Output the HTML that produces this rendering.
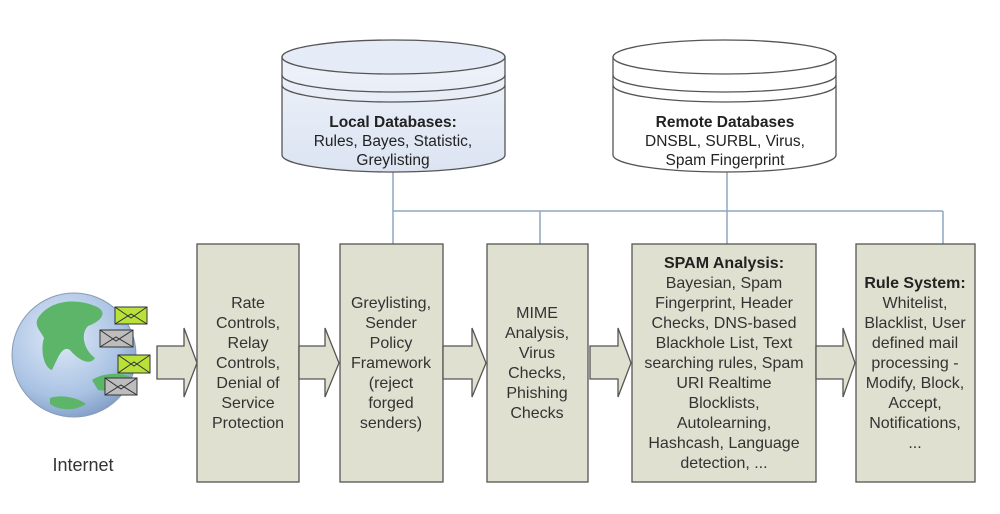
<!DOCTYPE html>
<html><head><meta charset="utf-8"><style>
html,body{margin:0;padding:0;background:#fff;}
svg{display:block;font-family:"Liberation Sans",Arial,sans-serif;}
</style></head><body>
<svg width="1000" height="514" viewBox="0 0 1000 514" xmlns="http://www.w3.org/2000/svg">
<defs>
<radialGradient id="gl" cx="0.4" cy="0.35" r="0.7">
<stop offset="0" stop-color="#dfeaf8"/><stop offset="0.7" stop-color="#a9c2e3"/><stop offset="1" stop-color="#7f9cc6"/>
</radialGradient>
<linearGradient id="cyl" x1="0" x2="0" y1="0" y2="1"><stop offset="0" stop-color="#eef2fa"/><stop offset="1" stop-color="#dce4f2"/></linearGradient>
</defs>
<!-- connectors -->
<g stroke="#8ea6bf" stroke-width="1.5" fill="none">
<line x1="393" y1="170" x2="393" y2="244"/>
<line x1="393" y1="211" x2="943" y2="211"/>
<line x1="540" y1="211" x2="540" y2="244"/>
<line x1="727" y1="170" x2="727" y2="244"/>
<line x1="943" y1="211" x2="943" y2="244"/>
</g>
<!-- cylinders -->
<g stroke="#555" stroke-width="1.3">
<path d="M282,57 L282,155 A111.5,17 0 0 0 505,155 L505,57 Z" fill="url(#cyl)"/>
<ellipse cx="393.5" cy="57" rx="111.5" ry="17" fill="#e6ecf7"/>
<path d="M282,75 A111.5,17 0 0 0 505,75" fill="none"/>
<path d="M282,85 A111.5,17 0 0 0 505,85" fill="none"/>
<path d="M613,57 L613,155 A111.5,17 0 0 0 836,155 L836,57 Z" fill="#fff"/>
<ellipse cx="724.5" cy="57" rx="111.5" ry="17" fill="#fff"/>
<path d="M613,75 A111.5,17 0 0 0 836,75" fill="none"/>
<path d="M613,85 A111.5,17 0 0 0 836,85" fill="none"/>
</g>
<g font-size="15.5" fill="#222" text-anchor="middle">
<text x="393" y="127" font-weight="bold">Local Databases:</text>
<text x="393" y="146">Rules, Bayes, Statistic,</text>
<text x="393" y="165">Greylisting</text>
<text x="725" y="127" font-weight="bold">Remote Databases</text>
<text x="725" y="146">DNSBL, SURBL, Virus,</text>
<text x="725" y="165">Spam Fingerprint</text>
</g>
<!-- boxes -->
<g fill="#dfe0d0" stroke="#555" stroke-width="1.3">
<rect x="197" y="244" width="102" height="238"/>
<rect x="340" y="244" width="103" height="238"/>
<rect x="487" y="244" width="101" height="238"/>
<rect x="632" y="244" width="184" height="238"/>
<rect x="856" y="244" width="119" height="238"/>
<!-- arrows -->
<path d="M157,346 L184,346 L184,328 L197,363 L184,397 L184,379 L157,379 Z"/>
<path d="M299,346 L325,346 L325,328 L339,363 L325,397 L325,379 L299,379 Z"/>
<path d="M443,346 L472,346 L472,328 L486,363 L472,397 L472,379 L443,379 Z"/>
<path d="M590,346 L618,346 L618,328 L631,363 L618,397 L618,379 L590,379 Z"/>
<path d="M816,346 L843,346 L843,328 L855,363 L843,397 L843,379 L816,379 Z"/>
</g>
<g font-size="16" fill="#333" text-anchor="middle">
<text x="248" y="308">Rate</text><text x="248" y="328">Controls,</text><text x="248" y="348">Relay</text><text x="248" y="368">Controls,</text><text x="248" y="388">Denial of</text><text x="248" y="408">Service</text><text x="248" y="428">Protection</text>
<text x="391" y="308">Greylisting,</text><text x="391" y="328">Sender</text><text x="391" y="348">Policy</text><text x="391" y="368">Framework</text><text x="391" y="388">(reject</text><text x="391" y="408">forged</text><text x="391" y="428">senders)</text>
<text x="537" y="318">MIME</text><text x="537" y="338">Analysis,</text><text x="537" y="358">Virus</text><text x="537" y="378">Checks,</text><text x="537" y="398">Phishing</text><text x="537" y="418">Checks</text>
<text x="724" y="268" font-weight="bold" fill="#222">SPAM Analysis:</text>
<text x="724" y="288">Bayesian, Spam</text><text x="724" y="308">Fingerprint, Header</text><text x="724" y="328">Checks, DNS-based</text><text x="724" y="348">Blackhole List, Text</text><text x="724" y="368">searching rules, Spam</text><text x="724" y="388">URI Realtime</text><text x="724" y="408">Blocklists,</text><text x="724" y="428">Autolearning,</text><text x="724" y="448">Hashcash, Language</text><text x="724" y="468">detection, ...</text>
<text x="915" y="288" font-weight="bold" fill="#222">Rule System:</text>
<text x="915" y="308">Whitelist,</text><text x="915" y="328">Blacklist, User</text><text x="915" y="348">defined mail</text><text x="915" y="368">processing -</text><text x="915" y="388">Modify, Block,</text><text x="915" y="408">Accept,</text><text x="915" y="428">Notifications,</text><text x="915" y="448">...</text>
<text x="83" y="471" font-size="18">Internet</text>
</g>
<!-- globe -->
<circle cx="74" cy="355" r="62" fill="url(#gl)" stroke="#8a9bb5" stroke-width="1"/>
<g fill="#5db56a">
<path d="M38,318 C50,300 75,298 95,306 C110,312 100,322 88,326 C80,334 84,350 95,358 C90,366 78,360 70,350 C62,345 58,358 52,370 C44,368 40,350 44,338 C40,330 34,326 38,318 Z"/>
<path d="M92,380 C104,372 124,372 132,378 C126,392 110,392 98,390 Z"/>
<path d="M50,398 C62,394 78,398 86,404 C74,412 58,410 50,404 Z"/>
</g>
<!-- envelopes -->
<g stroke="#333" stroke-width="1">
<rect x="115" y="307" width="32" height="17" fill="#b8e23a"/><path d="M115,307 L131,318 L147,307 M115,324 L131,314 L147,324" fill="none"/>
<rect x="100" y="330" width="33" height="17" fill="#bdbdbd"/><path d="M100,330 L116,341 L133,330 M100,347 L116,337 L133,347" fill="none"/>
<rect x="118" y="355" width="32" height="18" fill="#b8e23a"/><path d="M118,355 L134,366 L150,355 M118,373 L134,362 L150,373" fill="none"/>
<rect x="105" y="378" width="32" height="17" fill="#bdbdbd"/><path d="M105,378 L121,389 L137,378 M105,395 L121,385 L137,395" fill="none"/>
</g>
</svg>
</body></html>
